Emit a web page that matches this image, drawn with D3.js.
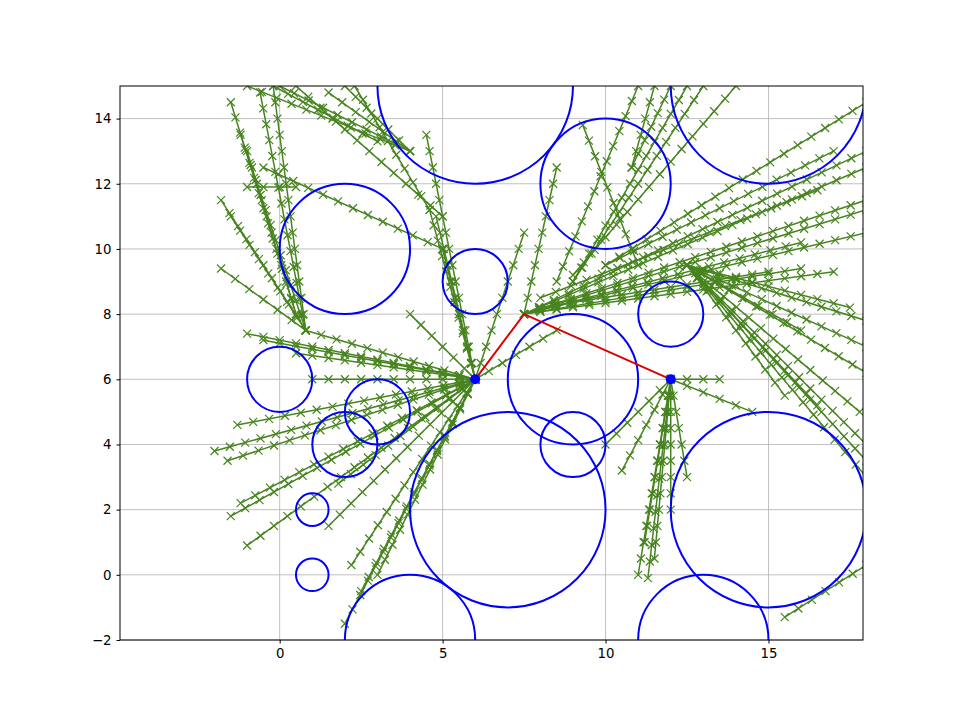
<!DOCTYPE html>
<html><head><meta charset="utf-8">
<script src="https://cdn.jsdelivr.net/npm/d3@7"></script>
<style>body{margin:0;background:#fff}</style></head>
<body><svg id="c" width="960" height="720"></svg>
<script>
const xTicks=[0,5,10,15];
const yTicks=[-2,0,2,4,6,8,10,12,14];
const obstacles=[[6,15,3],[10,12,2],[15,15,3],[2,10,2],[6,9,1],[12,8,1],[0,6,1],[9,6,2],[3,5,1],[2,4,1],[9,4,1],[7,2,3],[15,2,3],[1,2,0.5],[1,0,0.5],[4,-2,2],[13,-2,2]];
const start=[6,6], goal=[12,6];
const path=[[6,6],[7.5,8],[12,6]];
// tree branches [x1,y1,x2,y2]
const branches=[
[6,6,-2,3.8],[6,6,-1.5,1.8],[6,6,-1,0.9],[6,6,-1.3,4.6],[6,6,2,-1.5],[6,6,2.2,0.3],[6,6,3,0],[6,6,-1,7.4],[6,6,1,6],
[6,6,0.8,7.5],[0.8,7.5,-1.8,9.4],[0.8,7.5,-1.8,11.5],[0.8,7.5,-1.2,13.5],[6,6,4.6,11.2],[6,6,5,10],[6,6,7.5,10.5],
[4.6,11.2,2.3,15],[4,13,-1,15],[4,13,0,15],[4,13,2,15],[5,10,-0.5,12.5],[-1,11.9,0.5,11.9],[6,6,4.5,13.5],[0.5,8,-1.5,14.5],
[7.5,8,18,13],[7.5,8,18,11.2],[7.5,8,18,10.5],[7.5,8,16,9.4],[7.5,8,17,9.3],[9,9,13,15],[8.5,9,11,15],[10,9.5,18,14.5],[7.5,8,8.5,12.5],
[12.5,9.5,18,3],[12.5,9.5,18,4],[12.5,9.5,18,6.2],[12.5,9.5,18,7.8],[12.5,9.5,16,7.5],[12.5,9.5,17.5,8.2],[12.5,9.5,15.5,5.5],
[12,6,11,0],[12,6,11.3,-0.1],[12,6,12,2],[12,6,10,4],[12,6,13.5,6],[12,6,14.5,5],[10.8,12.5,12,15],[10.8,12.5,11.5,15],[15.5,-1.3,18,0.3],[6,6,8.5,7.5],
[6,6,-1.6,3.5],[6,6,-1.2,2.2],[6,6,1.8,2.8],[6,6,2.5,-0.5],[6,6,1.5,1.5],[6,6,0.5,6.8],[6,6,-0.5,7.2],[6,6,4,8],[6,6,4.8,11],
[0.8,7.5,-1.5,11],[0.8,7.5,-0.6,14.8],[0.8,7.5,-0.2,15],[0.5,8,-1,13],[4,13,1.5,14.8],[5,11,0.5,15],[3,13.3,-0.2,15],
[7.5,8,18,12.5],[7.5,8,18,11.5],[8,8.5,16.5,11.8],[7.5,8,16,10.2],[8,8.2,15,9.3],[9,9,12.5,15],[9,9.2,14,15],[10,9.5,17,13],
[12.5,9.5,18,3.5],[12.5,9.5,17.8,5],[12.5,9.5,18,7],[12.5,9.5,16.5,5.2],[12,6,11.5,0.5],[12,6,11.2,1],[12,6,12.5,3],[12,6,10.5,3.2],[11,9.5,9.3,13.8]
];
const svg=d3.select("#c");
const L=120,R=863,T=86,B=640;
const x=d3.scaleLinear().domain([-4.9,17.9]).range([L,R]);
const y=d3.scaleLinear().domain([-2,15]).range([B,T]);
const k=x(1)-x(0);
svg.append("defs").append("clipPath").attr("id","cp").append("rect").attr("x",L).attr("y",T).attr("width",R-L).attr("height",B-T);
const g=svg.append("g");
g.selectAll(".gx").data(xTicks).join("line").attr("x1",d=>x(d)).attr("x2",d=>x(d)).attr("y1",T).attr("y2",B).attr("stroke","#b0b0b0").attr("stroke-width",0.8);
g.selectAll(".gy").data(yTicks).join("line").attr("y1",d=>y(d)).attr("y2",d=>y(d)).attr("x1",L).attr("x2",R).attr("stroke","#b0b0b0").attr("stroke-width",0.8);
const p=svg.append("g").attr("clip-path","url(#cp)");
const col="#47841f";
branches.forEach(b=>{
  p.append("line").attr("x1",x(b[0])).attr("y1",y(b[1])).attr("x2",x(b[2])).attr("y2",y(b[3])).attr("stroke",col).attr("stroke-width",1.5);
  const len=Math.hypot(b[2]-b[0],b[3]-b[1]);const n=Math.max(1,Math.round(len/0.5));
  for(let i=0;i<=n;i++){const px=x(b[0]+(b[2]-b[0])*i/n),py=y(b[1]+(b[3]-b[1])*i/n);
    p.append("path").attr("d",`M${px-4},${py-4}L${px+4},${py+4}M${px-4},${py+4}L${px+4},${py-4}`).attr("stroke",col).attr("stroke-width",1.2);}
});
p.selectAll(".ob").data(obstacles).join("circle").attr("cx",d=>x(d[0])).attr("cy",d=>y(d[1])).attr("r",d=>d[2]*k).attr("fill","none").attr("stroke","#0000ff").attr("stroke-width",2);
p.append("path").attr("d",d3.line().x(d=>x(d[0])).y(d=>y(d[1]))(path)).attr("fill","none").attr("stroke","#dd0000").attr("stroke-width",2);
[start,goal].forEach(s=>p.append("circle").attr("cx",x(s[0])).attr("cy",y(s[1])).attr("r",5).attr("fill","#0000ff"));
svg.append("rect").attr("x",L).attr("y",T).attr("width",R-L).attr("height",B-T).attr("fill","none").attr("stroke","#000").attr("stroke-width",1);
const ax=svg.append("g").attr("transform",`translate(0,${B})`).call(d3.axisBottom(x).tickValues(xTicks).tickSize(3.5).tickPadding(5));
const ay=svg.append("g").attr("transform",`translate(${L},0)`).call(d3.axisLeft(y).tickValues(yTicks).tickSize(3.5).tickPadding(5).tickFormat(d=>d<0?"−"+(-d):d));
[ax,ay].forEach(a=>{a.select(".domain").remove();a.selectAll("text").attr("font-family","DejaVu Sans").attr("font-size",13.3).attr("fill","#000");});
</script></body></html>
